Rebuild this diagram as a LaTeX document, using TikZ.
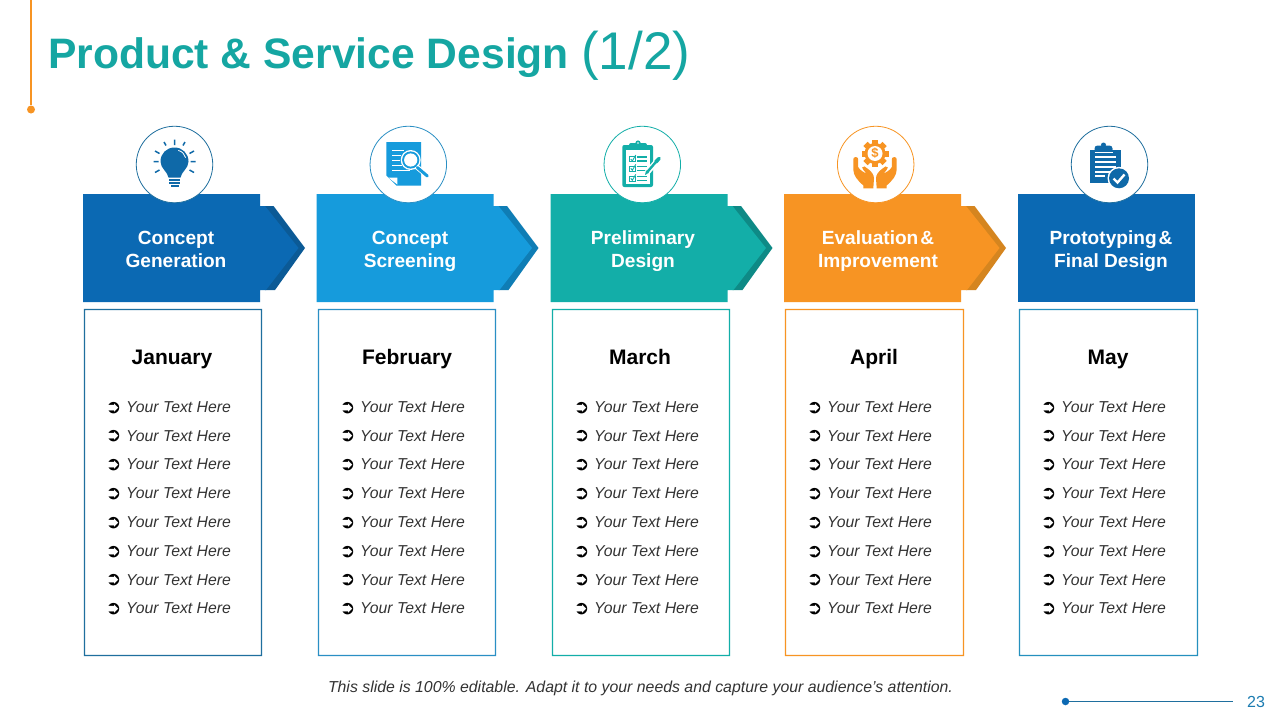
\documentclass[tikz,border=0pt]{standalone}
\usepackage{fontspec}
\setmainfont{Liberation Sans}
\newfontfamily\djv{DejaVu Sans}
\definecolor{cblue}{HTML}{0B69B3}
\definecolor{cbluedk}{HTML}{0B5A96}
\definecolor{csky}{HTML}{169BDC}
\definecolor{cskydk}{HTML}{0F7DB5}
\definecolor{cteal}{HTML}{13AEA8}
\definecolor{ctealdk}{HTML}{0E8A86}
\definecolor{corange}{HTML}{F79423}
\definecolor{corangedk}{HTML}{D5851F}
\definecolor{ctitle}{HTML}{15A6A2}
\definecolor{cicoblue}{HTML}{0F69A8}
\definecolor{cline}{HTML}{1F6F9E}
\definecolor{cboxsky}{HTML}{2A8FC4}
\definecolor{cboxlast}{HTML}{2590BE}
\definecolor{ctxt}{HTML}{333333}
\tikzset{
 x=1pt,y=-1pt,
 labeltxt/.style={text=white,font=\fontsize{19.1}{23}\selectfont\bfseries,align=center,inner sep=0},
 monthtxt/.style={text=black,font=\fontsize{21}{24}\selectfont\bfseries,anchor=base,inner sep=0},
 itemtxt/.style={text=ctxt,font=\fontsize{15.8}{18}\selectfont\itshape,anchor=base west,inner sep=0},
 bullettxt/.style={text=black,font=\fontsize{19}{20}\selectfont\djv,anchor=base,inner sep=0},
 iconring/.style={circle,fill=white,draw,line width=0.8pt,minimum size=76.5pt,inner sep=0},
}
% body and arrow: #1 left x, #2 main colour, #3 dark colour
\newcommand{\stagebody}[3]{%
 \begin{scope}[shift={(#1,0)}]
 \fill[#3] (181,206)--(190.5,206)--(222,248)--(192,290)--(182,290)--(210,248)--cycle;
 \fill[#2] (0,194)--(177,194)--(177,206)--(182,206)--(215.5,248)--(183,290)--(177,290)--(177,302)--(0,302)--cycle;
 \end{scope}}
\newcommand{\stageflat}[2]{\fill[#2] (#1,194) rectangle ++(177,108);}
\newcommand{\itemrow}[2]{%
 \node[bullettxt] at (#1+29,#2+6) {➲};
 \node[itemtxt] at (#1+41.5,#2+5.5) {Your Text Here};}
\newcommand{\listcol}[3]{% left x, right x, colour: frame filled as a ring
 \fill[#3,even odd rule] (#1-0.6,308.9) rectangle (#2+0.6,656.1) (#1+0.6,310.1) rectangle (#2-0.6,654.9);
 \foreach \yy in {407,435.5,464.3,493,522,551,579.5,608}{\itemrow{#1}{\yy}}}
\begin{document}
\begin{tikzpicture}
\useasboundingbox (0,0) rectangle (1280,720);
\fill[white] (0,0) rectangle (1280,720);
% header rule
\coordinate (ruletop) at (31,0);
\node[circle,fill=corange,minimum size=8pt,inner sep=0] (ruledot) at (31,109.5) {};
\draw[corange,line width=1.2pt] (ruletop)--(ruledot);
\node[anchor=base west,inner sep=0,text=ctitle,font=\fontsize{42.6}{48}\selectfont\bfseries] (title) at (48,68) {Product \& Service Design};
\node[anchor=base west,inner sep=0,text=ctitle,font=\fontsize{53}{58}\selectfont] (part) at (581,69) {(1/2)};
% stage bodies
\stagebody{83}{cblue}{cbluedk}
\stagebody{316.5}{csky}{cskydk}
\stagebody{550.5}{cteal}{ctealdk}
\stagebody{784}{corange}{corangedk}
\stageflat{1018}{cblue}
% rings
\node[iconring,draw=cline] (ring1) at (174.5,164.5) {};
\node[iconring,draw=cboxsky] (ring2) at (408.3,164.5) {};
\node[iconring,draw=cteal] (ring3) at (642.3,164.5) {};
\node[iconring,draw=corange] (ring4) at (875.7,164.5) {};
\node[iconring,draw=cline] (ring5) at (1109.5,164.5) {};
% icon 1: bulb
\begin{scope}[shift={(174.5,164.5)}]
 \fill[cicoblue] (-14,-3) .. controls (-14,-11) and (-8,-17) .. (0,-17) .. controls (8,-17) and (14,-11) .. (14,-3)
   .. controls (14,4) and (7,7) .. (6,13) -- (-6,13) .. controls (-7,7) and (-14,4) .. (-14,-3) -- cycle;
 \draw[white,line width=0.8pt,line cap=round] (4,-14) .. controls (8,-13) and (10,-10) .. (11,-7);
 \fill[cicoblue] (-5.5,14.2) rectangle (5.5,16.2);
 \fill[cicoblue] (-5.5,17.2) rectangle (5.5,19.2);
 \fill[cicoblue] (-4,20.2) rectangle (4,22.5);
 \draw[cicoblue,line width=1.5pt]
  (0,-25)--(0,-19.5) (-10.5,-22.5)--(-8.5,-19) (10.5,-22.5)--(8.5,-19)
  (-19.5,-13.5)--(-15,-11) (19.5,-13.5)--(15,-11)
  (-21,-3)--(-16,-3) (21,-3)--(16,-3)
  (-19.5,8)--(-15,5.5) (19.5,8)--(15,5.5);
\end{scope}
% icon 2: document with magnifier
\begin{scope}[shift={(408.3,164.5)}]
 \fill[csky] (-22,-22.5)--(12.7,-22.5)--(12.7,21)--(-12,21)--(-22,11)--cycle;
 \fill[white] (-20,13)--(-11,13)--(-11,20)--cycle;
 \draw[white,line width=1.4pt] (-16,-14)--(-4,-14) (-16,-9)--(-7,-9) (-16,-4)--(-8,-4) (-16,1)--(-6,1) (-16,6)--(2,6);
 \fill[white] (2.4,-4.5) circle (10);
 \fill[csky] (2.4,-4.5) circle (8.6);
 \fill[white] (2.4,-4.5) circle (6.6);
 \draw[white,line width=5pt] (8,2)--(20,12);
 \draw[csky,line width=3pt,line cap=round] (9,3)--(19,11.5);
\end{scope}
% icon 3: clipboard with pen
\begin{scope}[shift={(642.3,164.5)}]
 \fill[cteal,rounded corners=2pt] (-20,-19.5) rectangle (10.7,22.5);
 \fill[white] (-16.3,-14.5) rectangle (7.7,19.5);
 \fill[cteal,rounded corners=2pt] (-13.3,-21.5) rectangle (4.7,-15.5);
 \fill[cteal] (-4.3,-21.5) circle (2.6);
 \fill[white] (-4.3,-21.5) circle (0.9);
 \foreach \yy in {-5.5,3.8,13.8}{
  \draw[cteal,line width=0.5pt] (-13,\yy-2.5) rectangle (-7.5,\yy+2.5);
  \draw[cteal,line width=0.9pt] (-11.5,\yy)--(-10,\yy+2)--(-6.5,\yy-4);
  \draw[cteal,line width=1.2pt] (-5,\yy-2)--(4.4,\yy-2) (-5,\yy+2)--(4.4,\yy+2);
 }
 \draw[white,line width=5.5pt] (4,9)--(16,-5);
 \draw[cteal,line width=2.4pt] (5,7.5)--(14,-3);
 \draw[cteal,line width=3.6pt,line cap=round] (13.5,-2.5)--(16.8,-6);
 \fill[cteal] (2.7,10.5)--(3.8,5.8)--(6.6,8.3)--cycle;
\end{scope}
% icon 4: gear and hands
\begin{scope}[shift={(875.7,164.5)}]
 \fill[corange] (-0.7,-11) circle (10.5);
 \foreach \a in {0,45,...,315}{
  \fill[corange,rotate around={\a:(-0.7,-11)}] (-3.7,-24.5) rectangle (2.3,-18);
 }
 \fill[white] (-0.7,-11) circle (7.5);
 \node[inner sep=0,text=corange,font=\fontsize{13}{13}\selectfont\bfseries] (dollar) at (-0.7,-11) {\$};
 \fill[corange] (-20,-7.5) .. controls (-17.5,-7.5) and (-17.5,-6) .. (-17.5,-4) -- (-17.5,2.5)
   .. controls (-16,5.5) and (-12,8) .. (-9,9) .. controls (-12,6) and (-13,5) .. (-13.5,3)
   .. controls (-12,1) and (-10.5,2) .. (-9,3.5) .. controls (-4,7) and (-1.7,10) .. (-1.7,14) -- (-2.4,23.8) -- (-12.4,23.8) -- (-12.4,21)
   .. controls (-18,16) and (-22.4,11) .. (-22.4,5) -- (-22.4,-5) .. controls (-22.4,-6.5) and (-21.5,-7.5) .. (-20,-7.5) -- cycle;
 \fill[corange] (18.6,-7.5) .. controls (16.1,-7.5) and (16.1,-6) .. (16.1,-4) -- (16.1,2.5)
   .. controls (14.6,5.5) and (10.6,8) .. (7.6,9) .. controls (10.6,6) and (11.6,5) .. (12.1,3)
   .. controls (10.6,1) and (9.1,2) .. (7.6,3.5) .. controls (2.6,7) and (0.3,10) .. (0.3,14) -- (1,23.8) -- (11,23.8) -- (11,21)
   .. controls (16.6,16) and (21,11) .. (21,5) -- (21,-5) .. controls (21,-6.5) and (20.1,-7.5) .. (18.6,-7.5) -- cycle;
\end{scope}
% icon 5: clipboard with check
\begin{scope}[shift={(1109.5,164.5)}]
 \fill[cicoblue] (-19.5,-15) rectangle (11.2,18.8);
 \fill[cicoblue,rounded corners=3pt] (-15,-19) rectangle (3,-12);
 \fill[cicoblue] (-6,-19.5) circle (2.5);
 \draw[white,line width=0.8pt] (-15,-12.5)--(3,-12.5);
 \draw[white,line width=1.5pt] (-14.5,-7.5)--(6,-7.5) (-14.5,-2.5)--(6,-2.5) (-14.5,2.5)--(6,2.5) (-14.5,7.5)--(2,7.5) (-14.5,11.5)--(-5,11.5);
 \fill[white] (9.5,13.8) circle (11.5);
 \fill[cicoblue] (9.5,13.8) circle (10);
 \draw[white,line width=2.4pt] (4,14)--(8,18)--(15,10);
\end{scope}
% stage labels
\node[labeltxt] (lab1) at (176,249) {Concept\\Generation};
\node[labeltxt] (lab2) at (410,251) {Concept\\Screening};
\node[labeltxt] (lab3) at (643,251) {Preliminary\\Design};
\node[labeltxt] (lab4) at (878,251) {Evaluation\hspace{2pt}\&\\Improvement};
\node[labeltxt] (lab5) at (1111,251) {Prototyping\hspace{2pt}\&\\Final Design};
% lists
\listcol{84.5}{261.5}{cline}
\listcol{318.5}{495.5}{cboxsky}
\listcol{552.5}{729.5}{cteal}
\listcol{785.5}{963.5}{corange}
\listcol{1019.5}{1197.5}{cboxlast}
\node[monthtxt] (m1) at (172,364) {January};
\node[monthtxt] (m2) at (407,364) {February};
\node[monthtxt] (m3) at (640,364) {March};
\node[monthtxt] (m4) at (874,364) {April};
\node[monthtxt] (m5) at (1108,364) {May};
% footer
\node[anchor=base,inner sep=0,text=ctxt,font=\fontsize{15.85}{18}\selectfont\itshape] (foot) at (640.5,692.5) {This slide is 100\% editable. Adapt it to your needs and capture your audience's attention.};
\node[circle,fill=cblue,minimum size=7.5pt,inner sep=0] (pgdot) at (1065.5,701.5) {};
\coordinate (pgend) at (1233,701.5);
\draw[cline,line width=1pt] (pgdot)--(pgend);
\node[anchor=base,inner sep=0,text=cline!70!csky,font=\fontsize{16}{18}\selectfont] (pg) at (1256,707) {23};
\end{tikzpicture}
\end{document}
